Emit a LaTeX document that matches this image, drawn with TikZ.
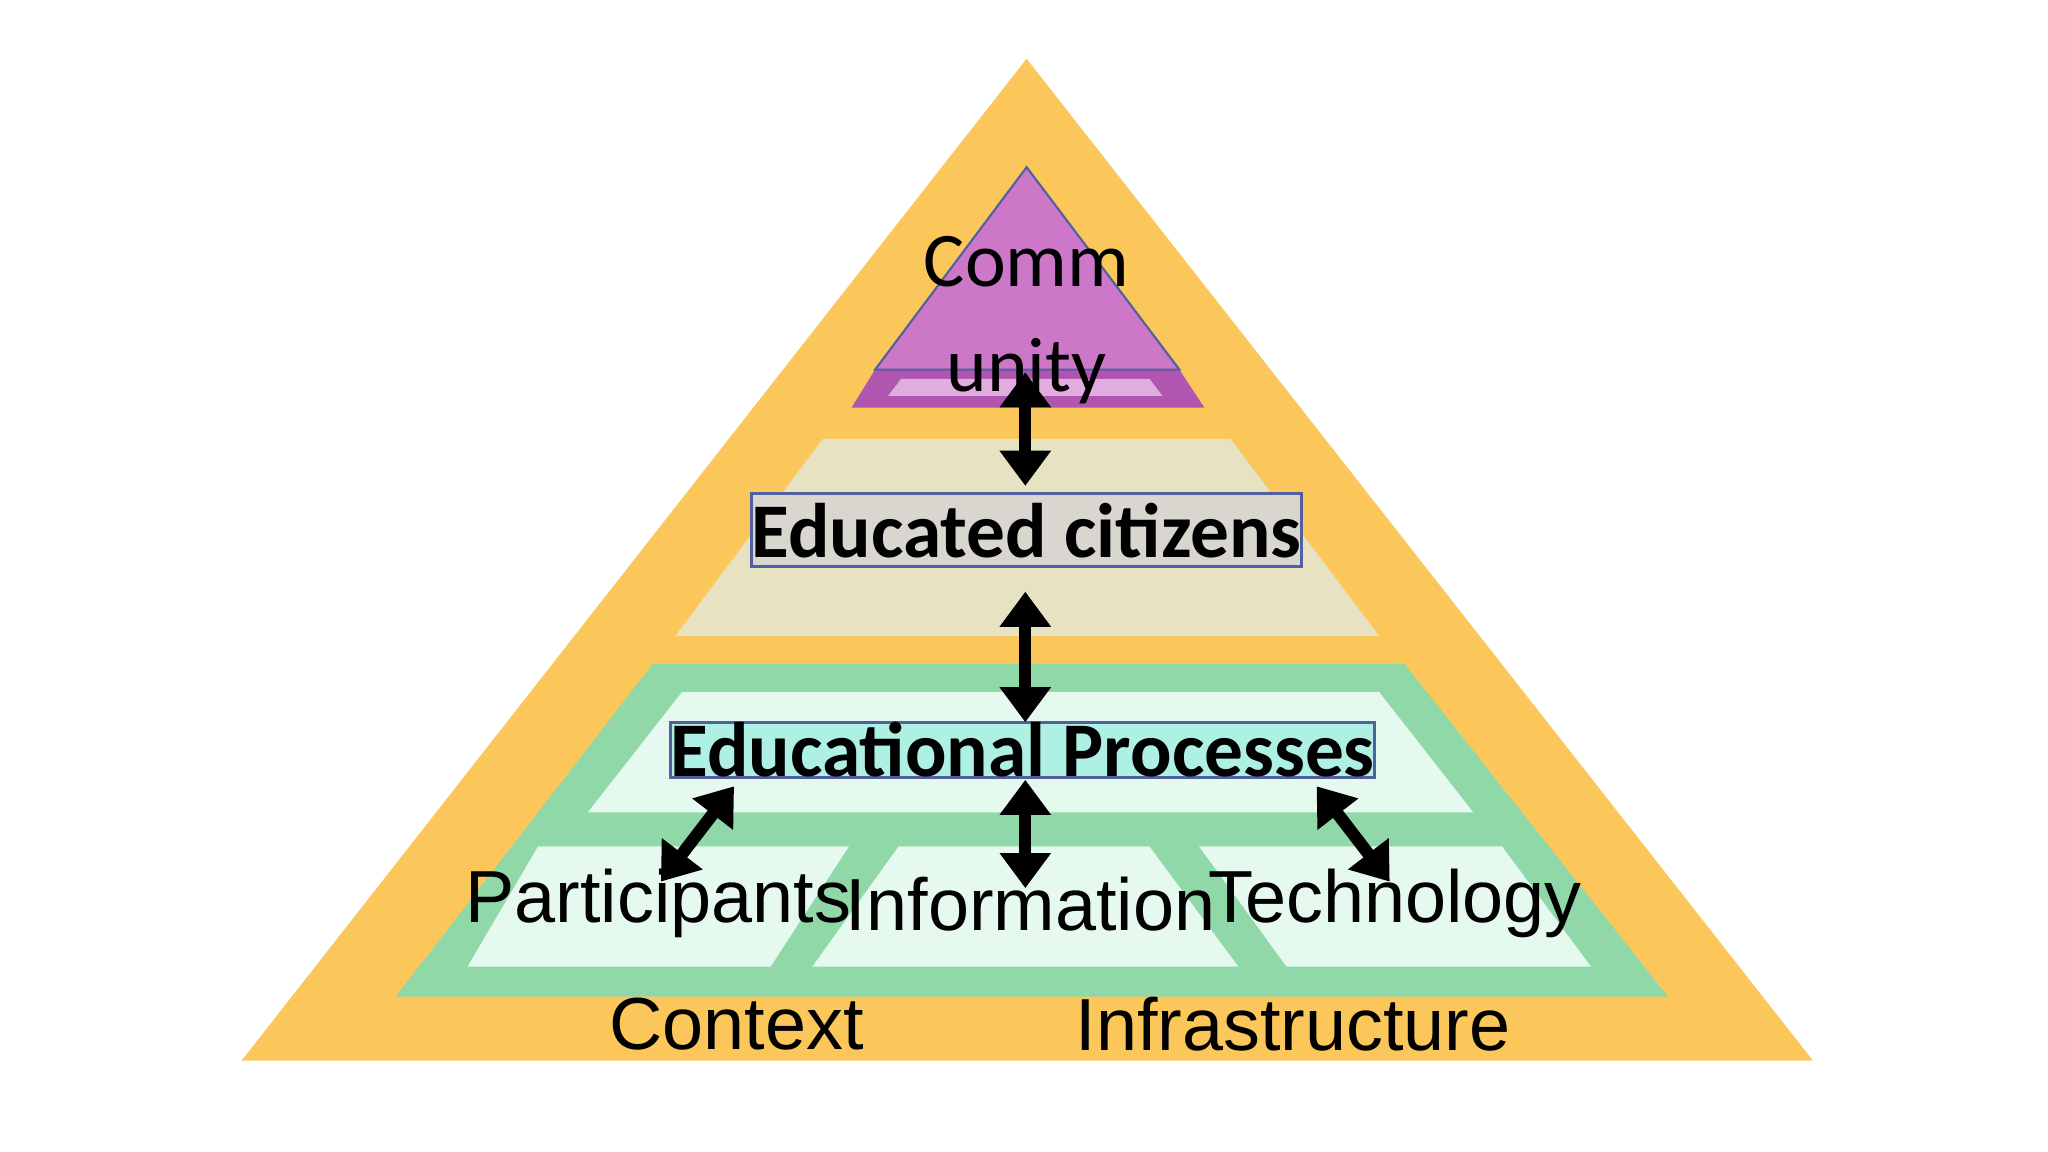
\documentclass[tikz,border=0pt]{standalone}
\usepackage{fontspec}
\setmainfont{Carlito}
\newfontfamily\arialf{Liberation Sans}
\usetikzlibrary{arrows.meta}
\definecolor{orng}{HTML}{FCC75A}
\definecolor{purp}{HTML}{CC77C8}
\definecolor{dpurp}{HTML}{B055B0}
\definecolor{beige}{HTML}{E6E2C2}
\definecolor{grn}{HTML}{90D8A8}
\definecolor{lgrn}{HTML}{E6F9EF}
\definecolor{gbox}{HTML}{D9D6D0}
\definecolor{tbox}{HTML}{AEF0E4}
\definecolor{edge}{HTML}{5060A0}
\tikzset{
  dbl/.style={{Triangle[width=14pt,length=10pt]}-{Triangle[width=14pt,length=10pt]},line width=3.5pt,black},
  lbl/.style={font=\arialf\fontsize{21}{24}\selectfont},
  boxlbl/.style={draw=edge,line width=0.8pt,font=\bfseries\fontsize{22}{26}\selectfont,inner sep=0pt}
}
\begin{document}
\begin{tikzpicture}[x=0.013061cm,y=-0.013061cm]
\useasboundingbox (0,0) rectangle (1568,882);
\fill[white] (0,0) rectangle (1568,882);
\fill[orng] (786,45) -- (1388,812) -- (185,812) -- cycle;
% purple
\fill[dpurp] (670,283) -- (903,283) -- (922,312) -- (652,312) -- cycle;
\fill[purp!60] (690,290) -- (880,290) -- (890,303) -- (680,303) -- cycle;
\draw[fill=purp,draw=edge,line width=0.6pt] (786,128) -- (903,283) -- (670,283) -- cycle;
\node[font=\fontsize{22}{30}\selectfont,align=center] (comm) at (786,245) {Comm\\unity};
% beige
\fill[beige] (630,336) -- (942,336) -- (1056,487) -- (517,487) -- cycle;
\node[boxlbl,fill=gbox,minimum width=330*0.13061mm,minimum height=56*0.13061mm] (edc) at (786,406) {Educated citizens};
% green
\fill[grn] (500,508) -- (1075,508) -- (1277,763) -- (303,763) -- cycle;
\fill[lgrn] (522,530) -- (1056,530) -- (1128,622) -- (450,622) -- cycle;
\fill[lgrn] (412,648) -- (650,648) -- (590,740) -- (358,740) -- cycle;
\fill[lgrn] (688,648) -- (880,648) -- (948,740) -- (622,740) -- cycle;
\fill[lgrn] (918,648) -- (1150,648) -- (1218,740) -- (985,740) -- cycle;
\node[boxlbl,fill=tbox,minimum width=500*0.13061mm,minimum height=38*0.13061mm] (edp) at (783,574) {Educational Processes};
% labels
\node[lbl] (par) at (504,692) {Participants};
\node[lbl] (inf) at (789,692) {Information};
\node[lbl] (tec) at (1068,692) {Technology};
\node[lbl] (ctx) at (564,784) {Context};
\node[lbl] (ifr) at (990,784) {Infrastructure};
% arrows
\coordinate (a1) at (785,285); \coordinate (a2) at (785,372);
\coordinate (b1) at (785,453); \coordinate (b2) at (785,553);
\coordinate (c1) at (785,597); \coordinate (c2) at (785,680);
\coordinate (d1) at (562,602); \coordinate (d2) at (506,675);
\coordinate (e1) at (1008,602); \coordinate (e2) at (1064,675);
\draw[dbl] (a1) -- (a2);
\draw[dbl] (b1) -- (b2);
\draw[dbl] (c1) -- (c2);
\draw[dbl] (d1) -- (d2);
\draw[dbl] (e1) -- (e2);
\end{tikzpicture}
\end{document}
